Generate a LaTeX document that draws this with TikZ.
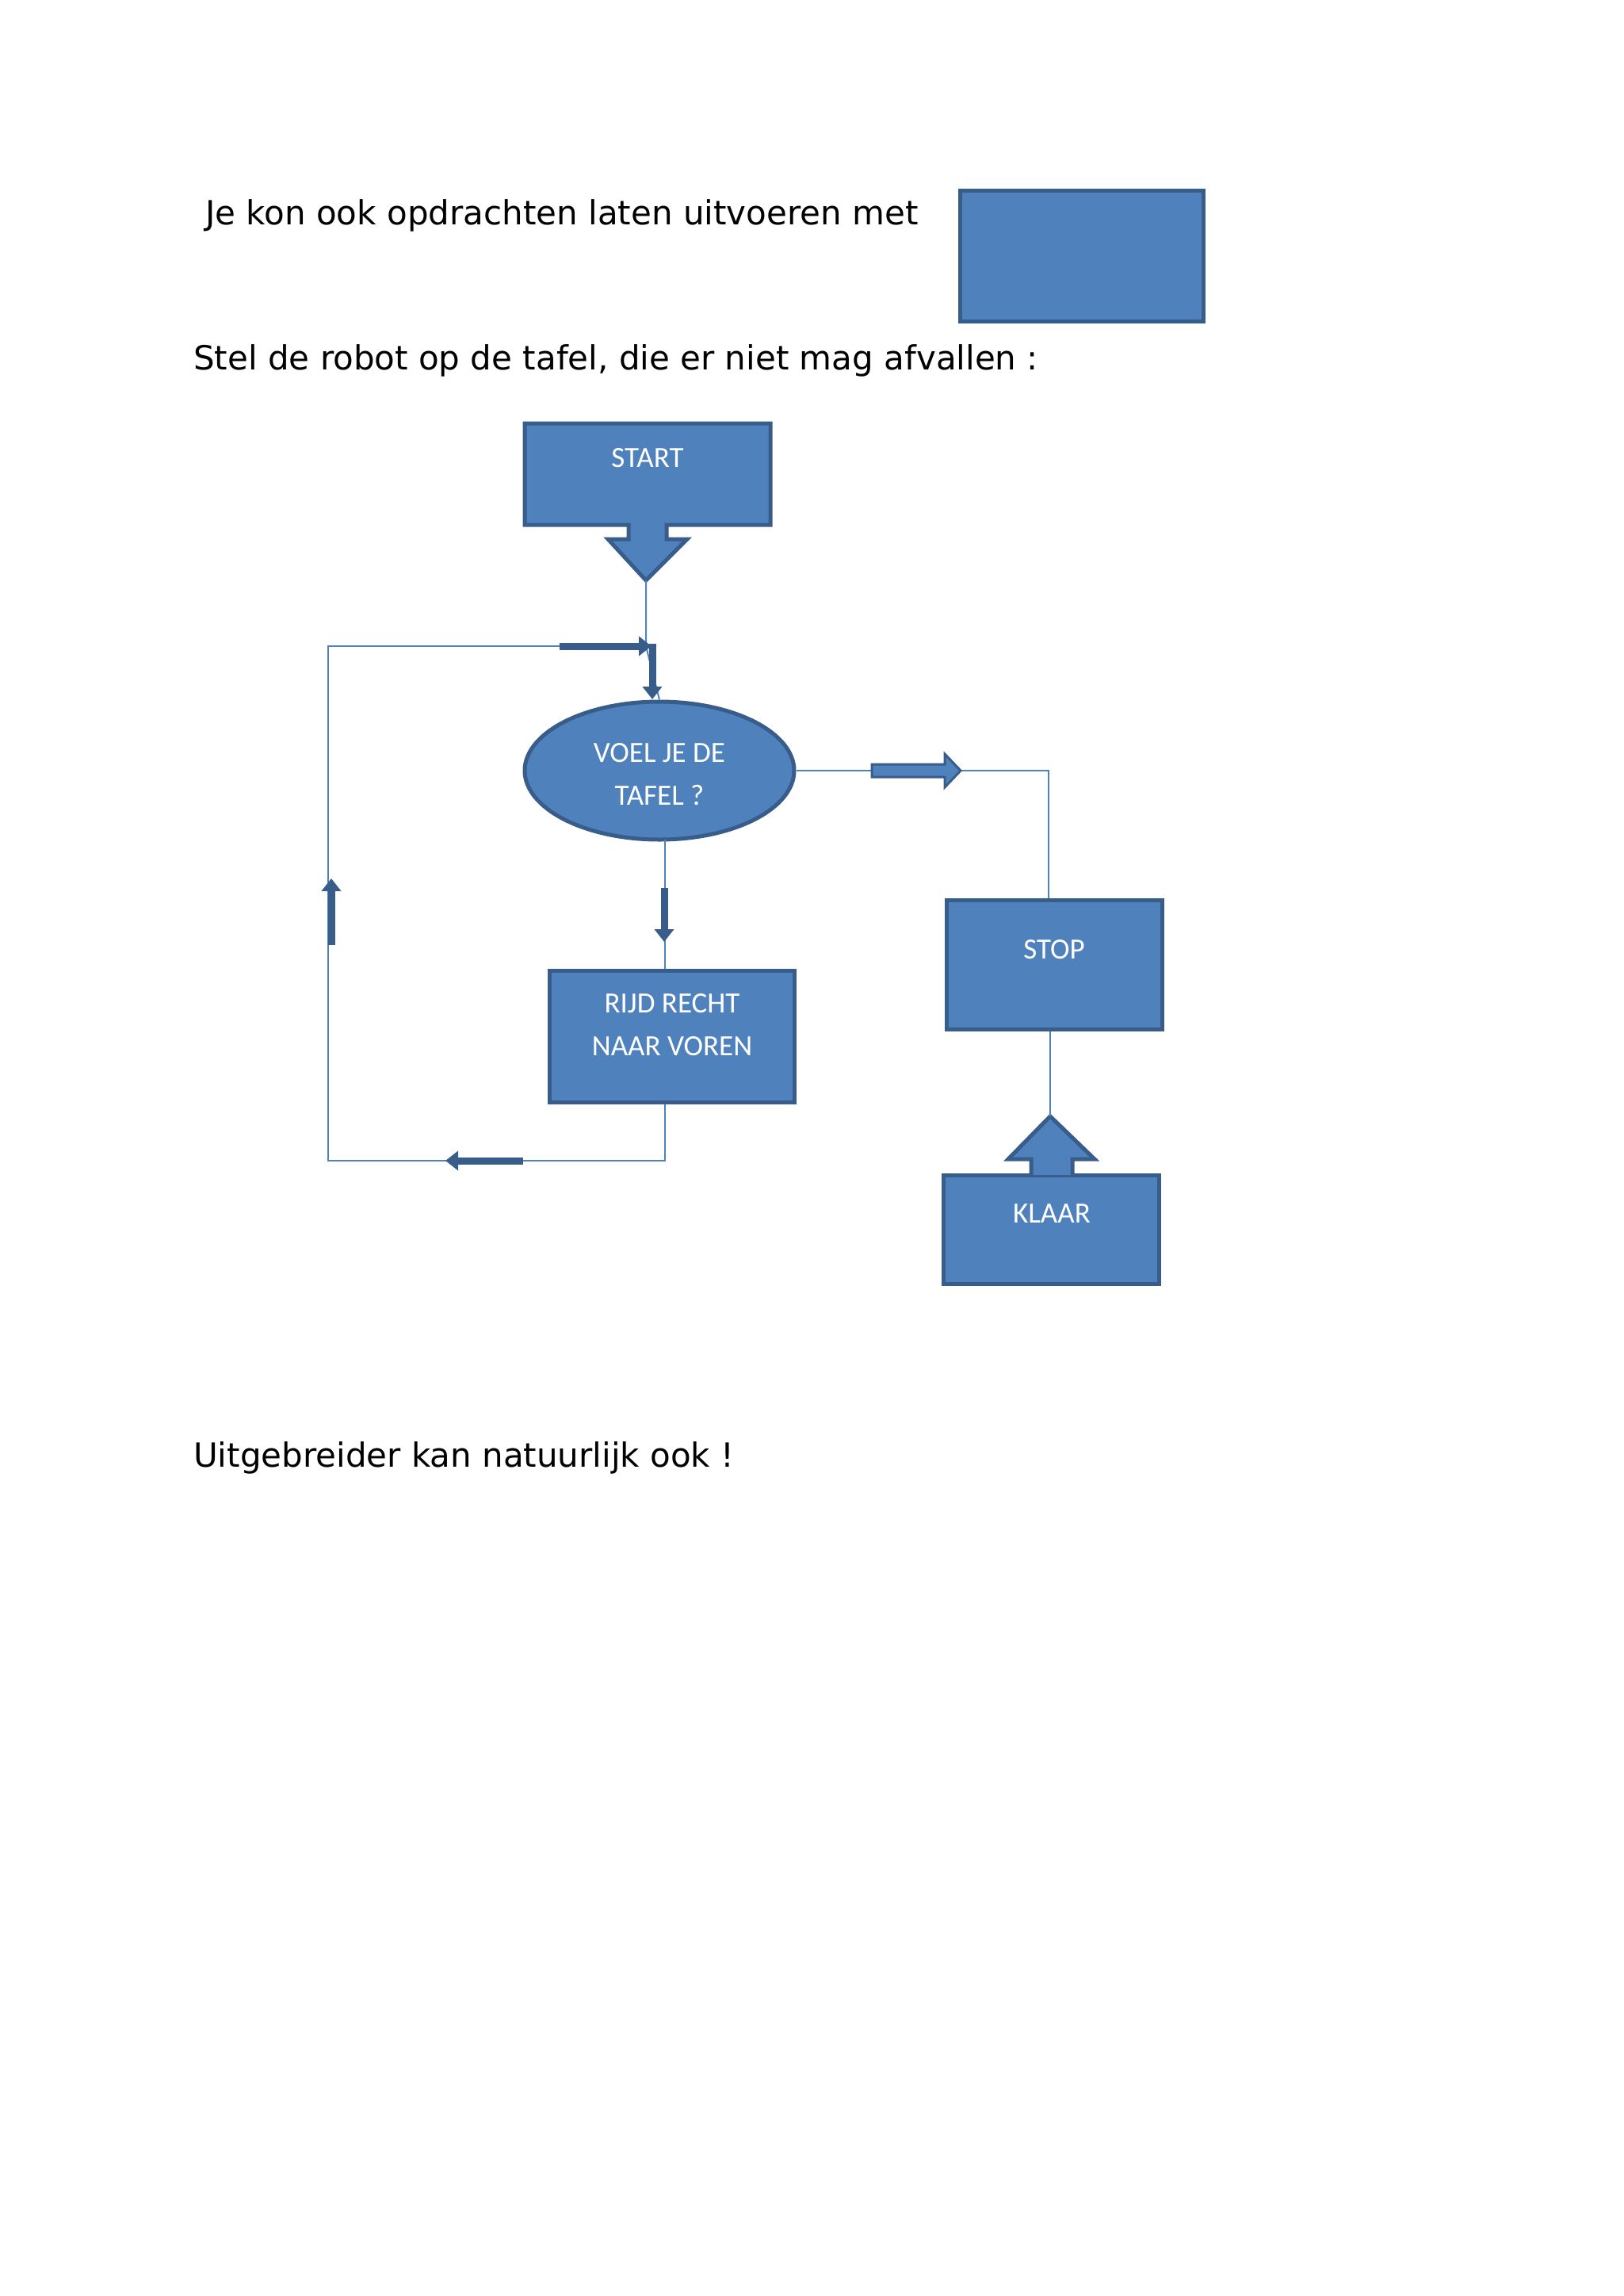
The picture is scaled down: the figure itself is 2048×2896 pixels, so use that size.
\documentclass[tikz,border=0pt]{standalone}
\usepackage{fontspec}
\setmainfont{DejaVu Sans}
\newfontfamily\boxfont{Carlito}
\usetikzlibrary{arrows.meta,shapes.geometric}
\definecolor{fillb}{HTML}{4F81BD}
\definecolor{edgeb}{HTML}{385D8A}
\tikzset{
  blk/.style={fill=fillb,draw=edgeb,line width=5pt,line join=miter},
  lbl/.style={font=\boxfont\fontsize{37}{37}\selectfont,text=white,inner sep=0pt},
  txt/.style={font=\fontsize{42}{42}\selectfont,anchor=west,inner sep=0pt},
  conn/.style={draw=fillb,line width=2pt},
  fat/.style={draw=edgeb,line width=9pt,-{Triangle[length=16pt,width=24pt]}},
}
\begin{document}
\begin{tikzpicture}[x=1pt,y=-1pt]
\useasboundingbox (0,0) rectangle (2048,2896);
\node[txt] (t1) at (259,272) {Je kon ook opdrachten laten uitvoeren met};
\node[blk,minimum width=307pt,minimum height=165pt,inner sep=0pt] (ex) at (1364.5,322.5) {};
\node[txt] (t2) at (244,455) {Stel de robot op de tafel, die er niet mag afvallen :};
\node[txt] (t3) at (244,1839) {Uitgebreider kan natuurlijk ook !};
% START
\path[blk] (662,534)--(972,534)--(972,662)--(841,662)--(841,680)--(867,680)--(815,732)--(767,680)--(793,680)--(793,662)--(662,662)--cycle;
\node[lbl] (start) at (817,578) {START};
\coordinate (stip) at (815,732);
% ellipse
\node[blk,ellipse,minimum width=340pt,minimum height=174pt,inner sep=0pt] (voel) at (832,972) {};
\node[lbl,align=center] at (832,977) {VOEL JE DE\\[17pt]TAFEL ?};
% RIJD
\node[blk,minimum width=309pt,minimum height=166pt,inner sep=0pt] (rijd) at (847.5,1307) {};
\node[lbl,align=center] at (848,1293) {RIJD RECHT\\[17pt]NAAR VOREN};
% STOP
\node[blk,minimum width=272pt,minimum height=163pt,inner sep=0pt] (stop) at (1330,1216.5) {};
\node[lbl] at (1330,1198) {STOP};
% KLAAR
\path[blk] (1190,1482)--(1462,1482)--(1462,1619)--(1190,1619)--cycle;
\path[blk] (1301,1482)--(1301,1462)--(1272,1462)--(1325,1408)--(1381,1462)--(1353,1462)--(1353,1482);
\node[lbl] (klaar) at (1327,1531) {KLAAR};
\coordinate (ktip) at (1325,1408);
% connectors
\coordinate (tl) at (414,815);
\coordinate (bl) at (414,1464);
\coordinate (br) at (839,1464);
\coordinate (jn) at (815,815);
\coordinate (rc) at (1323,972);
\coordinate (vb) at (839,1059);
\draw[conn] (stip)--(jn)--(voel.north);
\draw[conn] (vb)--(vb |- rijd.north);
\draw[conn] (rijd.south -| br)--(br)--(bl)--(tl)--(jn);
\draw[conn] (voel.east)--(rc)--(stop.north -| rc);
\draw[conn] (stop.south -| ktip)--(ktip);
% thick arrows
\draw[fat] (706,815)--(822,815);
\draw[fat] (823,812)--(823,882);
\draw[fat] (838,1120)--(838,1188);
\draw[fat] (660,1464)--(562,1464);
\draw[fat] (418,1192)--(418,1108);
\path[fill=fillb,draw=edgeb,line width=3pt] (1100,964)--(1192,964)--(1192,951)--(1212,972)--(1192,993)--(1192,980)--(1100,980)--cycle;
\end{tikzpicture}
\end{document}
